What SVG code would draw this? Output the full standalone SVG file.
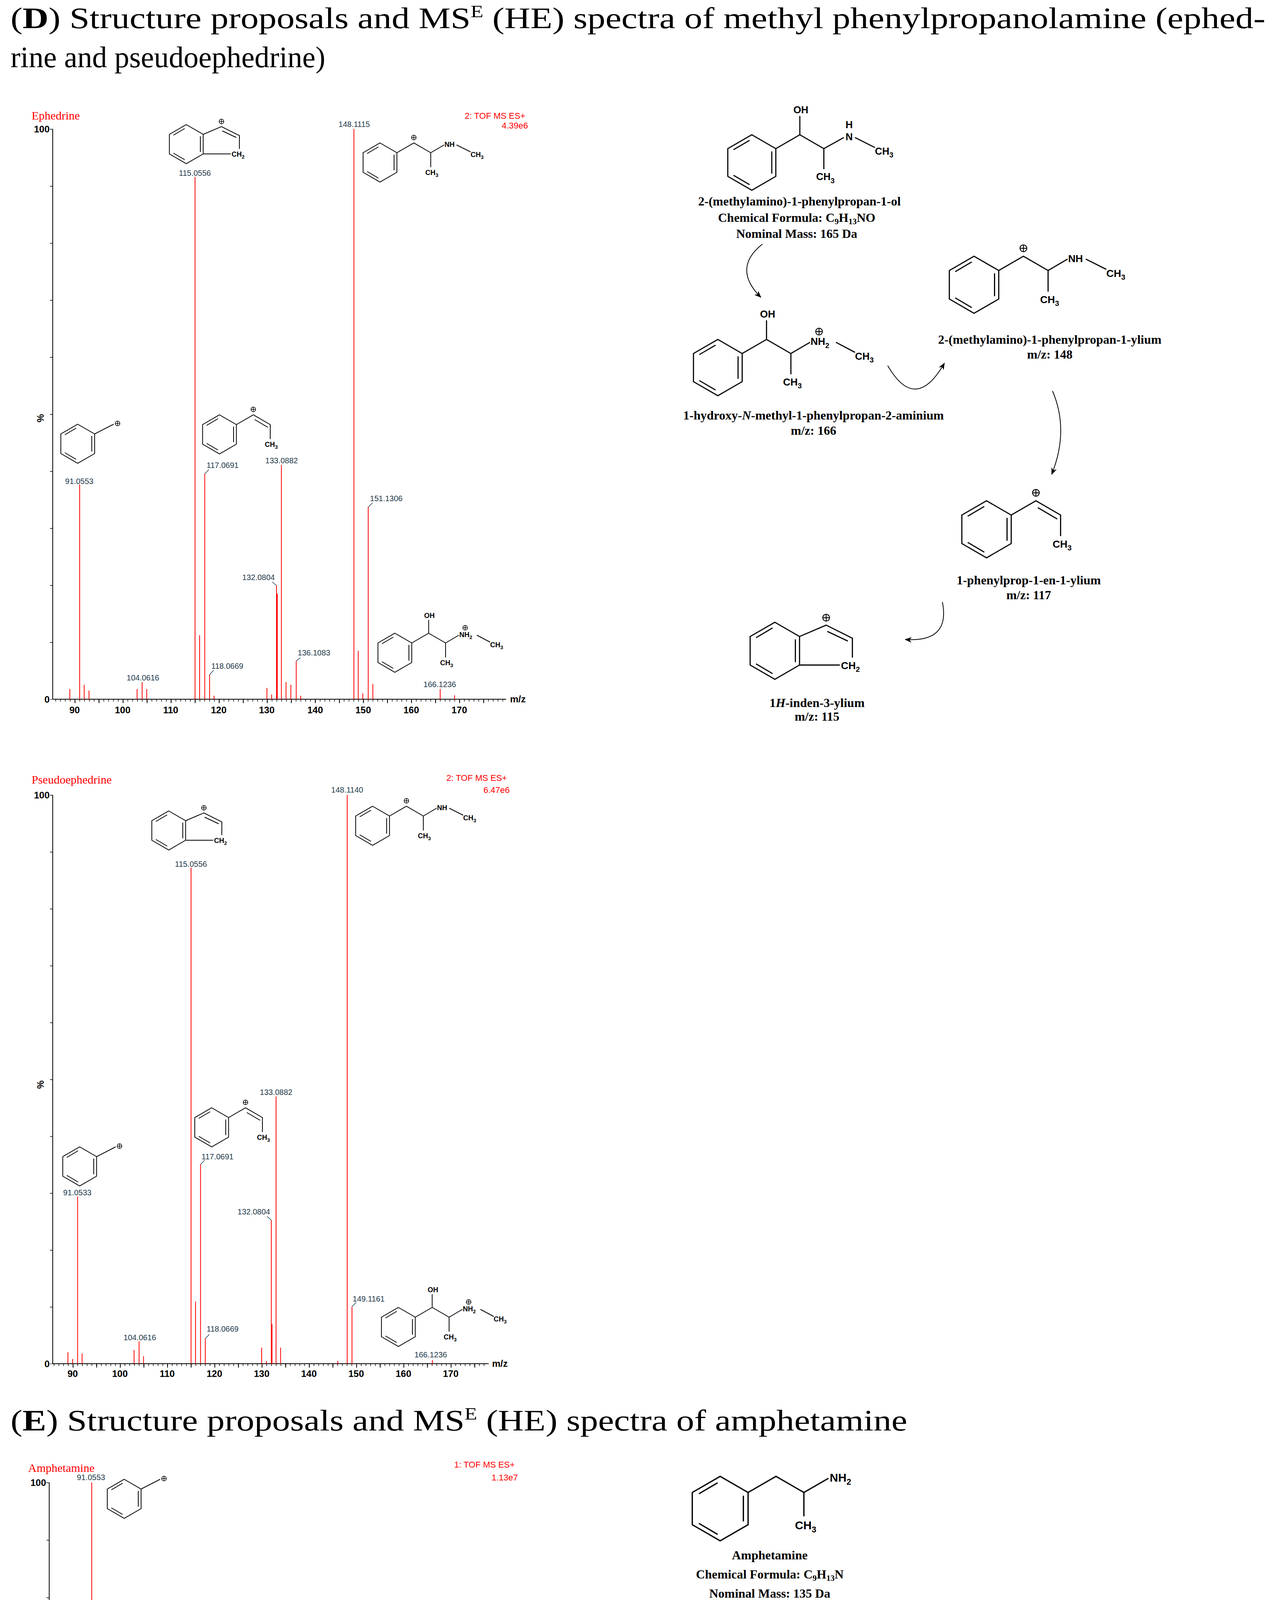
<svg xmlns="http://www.w3.org/2000/svg" width="3280" height="5345" viewBox="0 0 3280 5345">
<style>
.ax{stroke:#000;stroke-width:2;fill:none}
.pk{stroke:#ff0000;stroke-width:2;fill:none}
.pl{font-family:"Liberation Sans",Arial,sans-serif;font-size:20px;fill:#1f3a4a;text-anchor:middle}
.ld{stroke:#1f3a4a;stroke-width:1.5;fill:none}
.tk{font-family:"Liberation Sans",Arial,sans-serif;font-size:24px;font-weight:bold;text-anchor:middle}
.yl{font-family:"Liberation Sans",Arial,sans-serif;font-size:24px;font-weight:bold;text-anchor:end}
.rd{fill:#ff0000;font-family:"Liberation Sans",Arial,sans-serif;font-size:22px;text-anchor:end}
.nm{fill:#ff0000;font-family:"Liberation Serif","Times New Roman",serif;font-size:30px}
.b{stroke:#000;stroke-width:2;fill:none}
.at{font-family:"Liberation Sans",Arial,sans-serif;font-size:18px;font-weight:bold}
.s{font-size:13px}
.cap{font-family:"Liberation Serif","Times New Roman",serif;font-size:32px;font-weight:bold;text-anchor:middle}
.arr{stroke:#000;stroke-width:2;fill:none;marker-end:url(#ah)}
.hd{font-family:"Liberation Serif","Times New Roman",serif;font-size:76px}
</style>
<defs>
<marker id="ah" viewBox="0 0 10 10" refX="9" refY="5" markerWidth="18" markerHeight="18" orient="auto" markerUnits="userSpaceOnUse"><path d="M0,1L10,5L0,9L3,5Z" fill="#000"/></marker>
<g id="ring"><path class="b" d="M0,-50L43.3,-25L43.3,25L0,50L-43.3,25L-43.3,-25Z M-33,-23L-4,-40 M36,-20L36,20 M-4,40L-33,23"/></g>
<g id="plus"><circle r="6" fill="none" stroke="#000" stroke-width="1.5"/><path d="M-6,0H6M0,-6V6" stroke="#000" stroke-width="1.5"/></g>
<g id="m-benzyl"><use href="#ring"/><path class="b" d="M43.3,-25L92,-50"/><use href="#plus" x="102" y="-52"/></g>
<g id="m-styryl"><use href="#ring"/><path class="b" d="M43.3,-25L86.6,-50L129.9,-25L129.9,12 M90,-38L124,-18"/><use href="#plus" x="86.6" y="-64"/><text class="at" x="116" y="32">CH<tspan class="s" dy="5">3</tspan></text></g>
<g id="m-indenyl"><use href="#ring"/><path class="b" d="M43.3,-25L90,-45L136,-22L136,12 M43.3,25L114,25 M92,-34L128,-17"/><use href="#plus" x="90" y="-58"/><text class="at" x="116" y="32">CH<tspan class="s" dy="5">2</tspan></text></g>
<g id="m-148"><use href="#ring"/><path class="b" d="M43.3,-25L86.6,-50L129.9,-25L129.9,12 M129.9,-25L164,-45 M196,-45L232,-27"/><use href="#plus" x="86.6" y="-64"/><text class="at" x="165" y="-40">NH</text><text class="at" x="232" y="-14">CH<tspan class="s" dy="5">3</tspan></text><text class="at" x="116" y="32">CH<tspan class="s" dy="5">3</tspan></text></g>
<g id="m-ephprot"><use href="#ring"/><path class="b" d="M43.3,-25L86.6,-50L86.6,-84 M86.6,-50L129.9,-25L129.9,12 M129.9,-25L164,-45 M210,-45L244,-27"/><text class="at" x="75" y="-89">OH</text><text class="at" x="165" y="-40">NH<tspan class="s" dy="5">2</tspan></text><use href="#plus" x="180" y="-64"/><text class="at" x="244" y="-14">CH<tspan class="s" dy="5">3</tspan></text><text class="at" x="116" y="32">CH<tspan class="s" dy="5">3</tspan></text></g>
<g id="m-eph"><use href="#ring"/><path class="b" d="M43.3,-25L86.6,-50L86.6,-84 M86.6,-50L129.9,-25L129.9,12 M129.9,-25L166,-45 M186,-45L222,-27"/><text class="at" x="75" y="-89">OH</text><text class="at" x="169" y="-40">N</text><text class="at" x="169" y="-62">H</text><text class="at" x="222" y="-14">CH<tspan class="s" dy="5">3</tspan></text><text class="at" x="116" y="32">CH<tspan class="s" dy="5">3</tspan></text></g>
<g id="m-amph"><use href="#ring"/><path class="b" d="M43.3,-25L86.6,-50L129.9,-25L129.9,12 M129.9,-25L168,-47"/><text class="at" x="170" y="-42">NH<tspan class="s" dy="5">2</tspan></text><text class="at" x="116" y="32">CH<tspan class="s" dy="5">3</tspan></text></g>
<g id="m-amphprot"><use href="#ring"/><path class="b" d="M43.3,-25L86.6,-50L129.9,-25L129.9,12 M129.9,-25L168,-47"/><text class="at" x="170" y="-42">NH<tspan class="s" dy="5">3</tspan></text><use href="#plus" x="198" y="-22"/><text class="at" x="116" y="32">CH<tspan class="s" dy="5">3</tspan></text></g>
<g id="m-119"><use href="#ring"/><path class="b" d="M43.3,-25L86.6,-50L129.9,-25"/><path d="M129.9,-25L129.9,14" stroke="#000" stroke-width="3.5"/><use href="#plus" x="141" y="-22"/><text class="at" x="116" y="34">CH<tspan class="s" dy="5">3</tspan></text></g>
<pattern id="x1a" x="191" y="0" width="12.31" height="30" patternUnits="userSpaceOnUse"><rect width="1.5" height="30" fill="#000"/></pattern>
<pattern id="x1b" x="191" y="0" width="61.55" height="30" patternUnits="userSpaceOnUse"><rect width="2" height="30" fill="#000"/></pattern>
<pattern id="y1" x="0" y="330" width="20" height="146" patternUnits="userSpaceOnUse"><rect width="20" height="1.5" fill="#000"/></pattern>
<pattern id="x2a" x="186" y="0" width="12.1" height="30" patternUnits="userSpaceOnUse"><rect width="1.5" height="30" fill="#000"/></pattern>
<pattern id="x2b" x="186" y="0" width="60.5" height="30" patternUnits="userSpaceOnUse"><rect width="2" height="30" fill="#000"/></pattern>
<pattern id="y2" x="0" y="2035" width="20" height="145.6" patternUnits="userSpaceOnUse"><rect width="20" height="1.5" fill="#000"/></pattern>
<pattern id="x3a" x="134" y="0" width="9.12" height="30" patternUnits="userSpaceOnUse"><rect width="1.5" height="30" fill="#000"/></pattern>
<pattern id="x3b" x="134" y="0" width="45.6" height="30" patternUnits="userSpaceOnUse"><rect width="2" height="30" fill="#000"/></pattern>
<pattern id="y3" x="0" y="3795" width="20" height="147.2" patternUnits="userSpaceOnUse"><rect width="20" height="1.5" fill="#000"/></pattern>
</defs>

<g id="headings">
<text class="hd" x="27" y="72" textLength="3213" lengthAdjust="spacingAndGlyphs">(<tspan font-weight="bold">D</tspan>) Structure proposals and MS<tspan font-size="44" dy="-28">E</tspan><tspan dy="28"> (HE) spectra of methyl phenylpropanolamine (ephed-</tspan></text>
<text class="hd" x="27" y="172">rine and pseudoephedrine)</text>
<text class="hd" x="27" y="3662" textLength="2296" lengthAdjust="spacingAndGlyphs">(<tspan font-weight="bold">E</tspan>) Structure proposals and MS<tspan font-size="44" dy="-28">E</tspan><tspan dy="28"> (HE) spectra of amphetamine</tspan></text>
</g>

<g id="chart-ephedrine">
<text class="nm" x="81" y="306">Ephedrine</text>
<text class="rd" x="1345" y="304">2: TOF MS ES+</text>
<text class="rd" x="1352" y="329">4.39e6</text>
<path class="ax" d="M135,330V1790H1296"/>
<rect x="128" y="330" width="7" height="1461" fill="url(#y1)"/>
<rect x="135" y="1790" width="1161" height="6" fill="url(#x1a)"/>
<rect x="135" y="1790" width="1161" height="10" fill="url(#x1b)"/>
<text class="yl" x="127" y="339">100</text>
<text class="yl" x="127" y="1799">0</text>
<text class="yl" transform="translate(112,1060) rotate(-90)" text-anchor="middle" font-weight="normal">%</text>
<text class="tk" x="191" y="1826">90</text><text class="tk" x="314" y="1826">100</text><text class="tk" x="437" y="1826">110</text><text class="tk" x="560" y="1826">120</text><text class="tk" x="683" y="1826">130</text><text class="tk" x="807" y="1826">140</text><text class="tk" x="930" y="1826">150</text><text class="tk" x="1053" y="1826">160</text><text class="tk" x="1176" y="1826">170</text>
<text class="tk" x="1326" y="1798" font-weight="normal">m/z</text>
<path class="pk" d="M178.7,1790V1764 M204,1790V1240 M215.6,1790V1753 M227.9,1790V1768 M351,1790V1764 M363.9,1790V1746 M375.7,1790V1764 M499.4,1790V453 M511.1,1790V1626 M524.3,1790V1213 M536.6,1790V1727 M548,1790V1781 M683.4,1790V1761 M695.5,1790V1778 M708,1790V1499 M710,1790V1520 M720.5,1790V1190 M732.3,1790V1746 M744.7,1790V1753 M758.5,1790V1692 M770,1790V1781 M906.2,1790V330 M917.3,1790V1666 M929,1790V1775 M942.8,1790V1298 M954.7,1790V1751 M1127.1,1790V1764 M1164,1790V1780"/>
<path class="ld" d="M524.3,1213L535,1202 M942.8,1298L954,1287 M708,1499L697,1490 M758.5,1692L769,1684 M536.6,1727L547,1716"/>
<text class="pl" x="499" y="450">115.0556</text>
<text class="pl" x="907" y="325">148.1115</text>
<text class="pl" x="203" y="1239">91.0553</text>
<text class="pl" x="570" y="1198">117.0691</text>
<text class="pl" x="721" y="1186">133.0882</text>
<text class="pl" x="989" y="1283">151.1306</text>
<text class="pl" x="662" y="1485">132.0804</text>
<text class="pl" x="804" y="1678">136.1083</text>
<text class="pl" x="582" y="1712">118.0669</text>
<text class="pl" x="366" y="1742">104.0616</text>
<text class="pl" x="1126" y="1759">166.1236</text>
<use href="#m-indenyl" transform="translate(477,369)"/>
<use href="#m-148" transform="translate(973,416)"/>
<use href="#m-benzyl" transform="translate(199,1136)"/>
<use href="#m-styryl" transform="translate(562,1112)"/>
<use href="#m-ephprot" transform="translate(1011,1671)"/>
</g>

<g id="chart-pseudoephedrine">
<text class="nm" x="81" y="2006">Pseudoephedrine</text>
<text class="rd" x="1298" y="1999">2: TOF MS ES+</text>
<text class="rd" x="1305" y="2030">6.47e6</text>
<path class="ax" d="M135,2035V3491H1251"/>
<rect x="128" y="2035" width="7" height="1457" fill="url(#y2)"/>
<rect x="135" y="3491" width="1116" height="6" fill="url(#x2a)"/>
<rect x="135" y="3491" width="1116" height="10" fill="url(#x2b)"/>
<text class="yl" x="127" y="2044">100</text>
<text class="yl" x="127" y="3500">0</text>
<text class="yl" transform="translate(112,2766) rotate(-90)" text-anchor="middle" font-weight="normal">%</text>
<text class="tk" x="186" y="3525">90</text><text class="tk" x="307" y="3525">100</text><text class="tk" x="428" y="3525">110</text><text class="tk" x="549" y="3525">120</text><text class="tk" x="670" y="3525">130</text><text class="tk" x="791" y="3525">140</text><text class="tk" x="912" y="3525">150</text><text class="tk" x="1033" y="3525">160</text><text class="tk" x="1154" y="3525">170</text>
<text class="tk" x="1280" y="3499" font-weight="normal">m/z</text>
<path class="pk" d="M173.9,3491V3462 M186,3491V3479 M198.7,3491V3063 M210.2,3491V3465 M343.3,3491V3456 M356.1,3491V3434 M367.5,3491V3472 M489.2,3491V2221 M500.6,3491V3332 M513.5,3491V2981 M525.6,3491V3427 M670,3491V3450 M682,3491V3484 M694.7,3491V3124 M696.5,3491V3390 M706.8,3491V2807 M718.4,3491V3450 M865,3491V3484 M889,3491V2035 M901.3,3491V3345 M1107,3491V3482"/>
<path class="ld" d="M513.5,2981L524,2970 M694.7,3124L684,3114 M901.3,3345L912,3334 M525.6,3427L536,3416"/>
<text class="pl" x="889" y="2029">148.1140</text>
<text class="pl" x="489" y="2219">115.0556</text>
<text class="pl" x="707" y="2803">133.0882</text>
<text class="pl" x="557" y="2968">117.0691</text>
<text class="pl" x="198" y="3060">91.0533</text>
<text class="pl" x="650" y="3109">132.0804</text>
<text class="pl" x="944" y="3332">149.1161</text>
<text class="pl" x="570" y="3409">118.0669</text>
<text class="pl" x="358" y="3431">104.0616</text>
<text class="pl" x="1103" y="3475">166.1236</text>
<use href="#m-indenyl" transform="translate(432,2126)"/>
<use href="#m-148" transform="translate(954,2114)"/>
<use href="#m-styryl" transform="translate(542,2886)"/>
<use href="#m-benzyl" transform="translate(204,2986)"/>
<use href="#m-ephprot" transform="translate(1020,3397)"/>
</g>

<g id="chart-amphetamine">
<text class="nm" x="72" y="3768">Amphetamine</text>
<text class="rd" x="1318" y="3757">1: TOF MS ES+</text>
<text class="rd" x="1326" y="3790">1.13e7</text>
<path class="ax" d="M126,3795V5267H1269"/>
<rect x="119" y="3795" width="7" height="1473" fill="url(#y3)"/>
<rect x="126" y="5267" width="1143" height="6" fill="url(#x3a)"/>
<rect x="126" y="5267" width="1143" height="10" fill="url(#x3b)"/>
<text class="yl" x="118" y="3804">100</text>
<text class="yl" x="118" y="5276">0</text>
<text class="yl" transform="translate(103,4529) rotate(-90)" text-anchor="middle" font-weight="normal">%</text>
<text class="tk" x="134" y="5299">80</text><text class="tk" x="225" y="5299">90</text><text class="tk" x="316" y="5299">100</text><text class="tk" x="408" y="5299">110</text><text class="tk" x="499" y="5299">120</text><text class="tk" x="590" y="5299">130</text><text class="tk" x="681" y="5299">140</text><text class="tk" x="772" y="5299">150</text><text class="tk" x="864" y="5299">160</text><text class="tk" x="955" y="5299">170</text><text class="tk" x="1046" y="5299">180</text><text class="tk" x="1137" y="5299">190</text><text class="tk" x="1228" y="5299">200</text>
<text class="tk" x="1298" y="5275" font-weight="normal">m/z</text>
<path class="pk" d="M161,5267V5260 M234.8,5267V3795 M244.1,5267V5190 M371,5267V5249 M389,5267V5254 M490.5,5267V5029 M498.8,5267V5249 M609,5267V5210 M618,5267V5261 M645.8,5267V4686 M653.8,5267V5226"/>
<path class="ld" d="M244.1,5190L255,5179 M609,5210L598,5199"/>
<text class="pl" x="233" y="3789">91.0553</text>
<text class="pl" x="646" y="4680">136.1131</text>
<text class="pl" x="490" y="5022">119.0868</text>
<text class="pl" x="284" y="5172">92.0571</text>
<text class="pl" x="562" y="5193">132.0804</text>
<use href="#m-benzyl" transform="translate(318,3837)"/>
<use href="#m-amphprot" transform="translate(558,4585)"/>
<use href="#m-119" transform="translate(429,4928)"/>
</g>

<g id="d-ephedrine"><use href="#m-eph" transform="translate(1925,416) scale(1.42)"/>
<text class="cap" x="2047" y="526">2-(methylamino)-1-phenylpropan-1-ol</text>
<text class="cap" x="2040" y="568">Chemical Formula: C<tspan font-size="21" dy="6">9</tspan><tspan dy="-6">H</tspan><tspan font-size="21" dy="6">13</tspan><tspan dy="-6">NO</tspan></text>
<text class="cap" x="2040" y="609">Nominal Mass: 165 Da</text></g>
<g id="d-166"><use href="#m-ephprot" transform="translate(1838,941) scale(1.44)"/>
<text class="cap" x="2083" y="1074">1-hydroxy-<tspan font-style="italic">N</tspan>-methyl-1-phenylpropan-2-aminium</text>
<text class="cap" x="2083" y="1113">m/z: 166</text></g>
<g id="d-148"><use href="#m-148" transform="translate(2494,729) scale(1.46)"/>
<text class="cap" x="2688" y="880">2-(methylamino)-1-phenylpropan-1-ylium</text>
<text class="cap" x="2688" y="918">m/z: 148</text></g>
<g id="d-117"><use href="#m-styryl" transform="translate(2526,1355) scale(1.46)"/>
<text class="cap" x="2634" y="1496">1-phenylprop-1-en-1-ylium</text>
<text class="cap" x="2634" y="1534">m/z: 117</text></g>
<g id="d-115"><use href="#m-indenyl" transform="translate(1984,1666) scale(1.46)"/>
<text class="cap" x="2092" y="1810">1<tspan font-style="italic">H</tspan>-inden-3-ylium</text>
<text class="cap" x="2092" y="1845">m/z: 115</text></g>

<g id="e-amph"><use href="#m-amph" transform="translate(1844,3862) scale(1.65)"/>
<text class="cap" x="1971" y="3992">Amphetamine</text>
<text class="cap" x="1971" y="4041">Chemical Formula: C<tspan font-size="21" dy="6">9</tspan><tspan dy="-6">H</tspan><tspan font-size="21" dy="6">13</tspan><tspan dy="-6">N</tspan></text>
<text class="cap" x="1971" y="4090">Nominal Mass: 135 Da</text></g>
<g id="e-136"><use href="#m-amphprot" transform="translate(1813,4449) scale(1.67)"/>
<text class="cap" x="1966" y="4577">1-phenylpropan-2-aminium</text>
<text class="cap" x="1966" y="4618">m/z: 136</text></g>
<g id="e-119"><use href="#m-119" transform="translate(2560,4408) scale(1.65)"/>
<text class="cap" x="2697" y="4541">1-phenylpropan-2-ylium</text>
<text class="cap" x="2697" y="4582">m/z: 119</text></g>
<g id="e-91"><use href="#m-benzyl" transform="translate(2646,4970) scale(1.67)"/>
<text class="cap" x="2646" y="5118">phenylmethylium</text>
<text class="cap" x="2646" y="5159">m/z: 91</text></g>

<g id="connectors">
<path class="arr" d="M1952,625Q1874,687 1948,761"/>
<path class="arr" d="M2273,936Q2344,1059 2418,930"/>
<path class="arr" d="M2695,1001Q2738,1102 2693,1214"/>
<path class="arr" d="M2413,1541Q2434,1645 2318,1637"/>
<path class="arr" d="M1874,4116Q1777,4187 1876,4278"/>
<path class="arr" d="M2160,4459Q2262,4610 2372,4485"/>
<path class="arr" d="M2750,4634Q2818,4724 2729,4782"/>
</g>
</svg>
